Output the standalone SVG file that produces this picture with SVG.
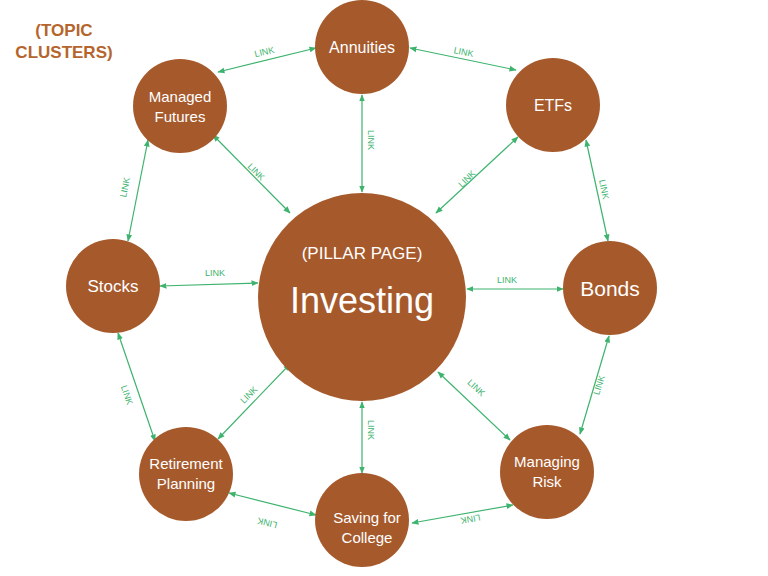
<svg xmlns="http://www.w3.org/2000/svg" width="768" height="576" viewBox="0 0 768 576">
<style>
.n{fill:#A65A2C}
.t{fill:#fff;font-family:"Liberation Sans",Arial,sans-serif;font-size:15px;text-anchor:middle}
.c line{stroke:#3DB36E;stroke-width:1.2;marker-start:url(#a);marker-end:url(#a)}
.l{fill:#3DB36E;font-family:"Liberation Sans",Arial,sans-serif;font-size:9px;text-anchor:middle}
</style>
<defs><marker id="a" viewBox="0 0 10 10" refX="9" refY="5" markerWidth="6" markerHeight="6" orient="auto-start-reverse"><path d="M0,1L10,5L0,9z" fill="#3DB36E"/></marker></defs>
<rect width="768" height="576" fill="#fff"/>
<text x="64" y="36" fill="#B5652C" font-family="Liberation Sans,Arial,sans-serif" font-weight="bold" font-size="17" text-anchor="middle">(TOPIC</text>
<text x="64" y="58" fill="#B5652C" font-family="Liberation Sans,Arial,sans-serif" font-weight="bold" font-size="17" text-anchor="middle">CLUSTERS)</text>
<g class="c">
<line x1="218" y1="72" x2="316" y2="48"/>
<line x1="410" y1="48" x2="516" y2="70"/>
<line x1="362" y1="95" x2="362" y2="192"/>
<line x1="518" y1="137" x2="436" y2="213"/>
<line x1="586" y1="140" x2="608" y2="241"/>
<line x1="563" y1="289" x2="467" y2="289"/>
<line x1="609" y1="336" x2="580" y2="434"/>
<line x1="510" y1="440" x2="438" y2="372"/>
<line x1="513" y1="505" x2="412" y2="523"/>
<line x1="362" y1="473" x2="362" y2="402"/>
<line x1="316" y1="515" x2="229" y2="493"/>
<line x1="218" y1="439" x2="290" y2="364"/>
<line x1="155" y1="441" x2="118" y2="333"/>
<line x1="160" y1="286" x2="258" y2="283"/>
<line x1="128" y1="241" x2="148" y2="140"/>
<line x1="213" y1="135" x2="290" y2="213"/>
<text class="l" transform="translate(265,55) rotate(-13)">LINK</text>
<text class="l" transform="translate(463,55) rotate(12)">LINK</text>
<text class="l" transform="translate(368,140) rotate(90)">LINK</text>
<text class="l" transform="translate(469,181) rotate(-45)">LINK</text>
<text class="l" transform="translate(601,190) rotate(78)">LINK</text>
<text class="l" transform="translate(507,283)">LINK</text>
<text class="l" transform="translate(602,386) rotate(-73)">LINK</text>
<text class="l" transform="translate(474,390) rotate(43)">LINK</text>
<text class="l" transform="translate(470,516) rotate(170)">LINK</text>
<text class="l" transform="translate(368,430) rotate(90)">LINK</text>
<text class="l" transform="translate(268,520) rotate(194)">LINK</text>
<text class="l" transform="translate(251,397) rotate(-45)">LINK</text>
<text class="l" transform="translate(124,396) rotate(71)">LINK</text>
<text class="l" transform="translate(215,276)">LINK</text>
<text class="l" transform="translate(128,188) rotate(-78)">LINK</text>
<text class="l" transform="translate(254,174) rotate(45)">LINK</text>
</g>
<g id="investing"><circle class="n" cx="362" cy="297" r="104"/><text class="t" x="362" y="259" style="font-size:17px">(PILLAR PAGE)</text><text class="t" x="362" y="313" style="font-size:36px">Investing</text></g>
<g id="annuities"><circle class="n" cx="362" cy="47" r="47"/><text class="t" x="362" y="53" style="font-size:16px">Annuities</text></g>
<g id="etfs"><circle class="n" cx="553" cy="105" r="47"/><text class="t" x="553" y="111" style="font-size:16px">ETFs</text></g>
<g id="bonds"><circle class="n" cx="610" cy="288" r="47"/><text class="t" x="610" y="296" style="font-size:21px">Bonds</text></g>
<g id="risk"><circle class="n" cx="547" cy="472" r="47"/><text class="t" x="547" y="467">Managing</text><text class="t" x="547" y="487">Risk</text></g>
<g id="college"><circle class="n" cx="362" cy="520" r="47"/><text class="t" x="367" y="523">Saving for</text><text class="t" x="367" y="543">College</text></g>
<g id="retirement"><circle class="n" cx="186" cy="474" r="47"/><text class="t" x="186" y="469">Retirement</text><text class="t" x="186" y="489">Planning</text></g>
<g id="stocks"><circle class="n" cx="113" cy="286" r="47"/><text class="t" x="113" y="292" style="font-size:17px">Stocks</text></g>
<g id="futures"><circle class="n" cx="180" cy="106" r="47"/><text class="t" x="180" y="102">Managed</text><text class="t" x="180" y="122">Futures</text></g>
</svg>
